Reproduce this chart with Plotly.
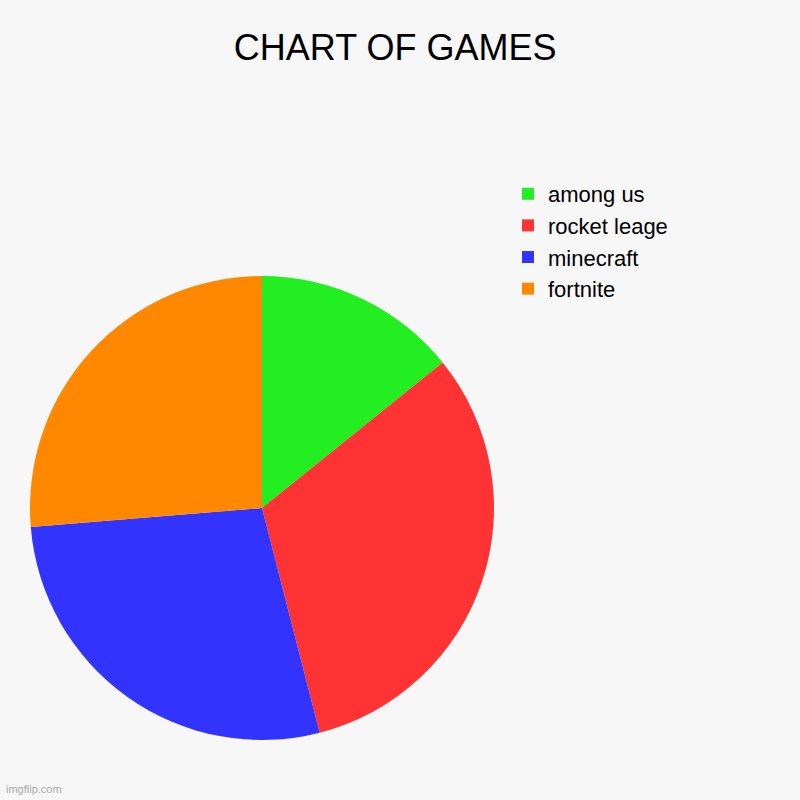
import plotly.graph_objects as go

# data (share of the pie, percent)
games = ["among us", "rocket leage", "minecraft", "fortnite"]
shares = [14.2, 31.8, 27.7, 26.3]
colors = ["#22ee22", "#ff3333", "#3333ff", "#ff8800"]

fig = go.Figure(go.Pie(
    labels=games,
    values=shares,
    marker=dict(colors=colors, line=dict(width=0)),
    sort=False,
    direction="clockwise",
    rotation=0,
    textinfo="none",
    hoverinfo="label+percent",
    domain=dict(x=[30 / 800, 494 / 800], y=[60 / 800, 524 / 800]),
))

fig.update_layout(
    width=800, height=800,
    margin=dict(l=0, r=0, t=0, b=0),
    paper_bgcolor="#f7f7f7",
    plot_bgcolor="#f7f7f7",
    font=dict(family="Liberation Sans, Arial, sans-serif", color="#000"),
    title=dict(text="CHART OF GAMES", x=0.494, xanchor="center", y=1 - 47 / 800,
               yanchor="middle", font=dict(size=36)),
    legend=dict(x=508 / 800, y=1 - 173 / 800, xanchor="left", yanchor="top",
                font=dict(size=22), itemsizing="constant", tracegroupgap=0,
                bgcolor="rgba(0,0,0,0)"),
    annotations=[dict(text="imgflip.com", x=4 / 800, y=3 / 800, xref="paper", yref="paper",
                      xanchor="left", yanchor="bottom", showarrow=False,
                      font=dict(size=11, color="#aaaaaa"))],
)

# page has a default body margin; remove it so the 800px figure fills the window
fig.write_html("out.html", config={"displayModeBar": False},
               post_script="document.body.style.margin='0';")
